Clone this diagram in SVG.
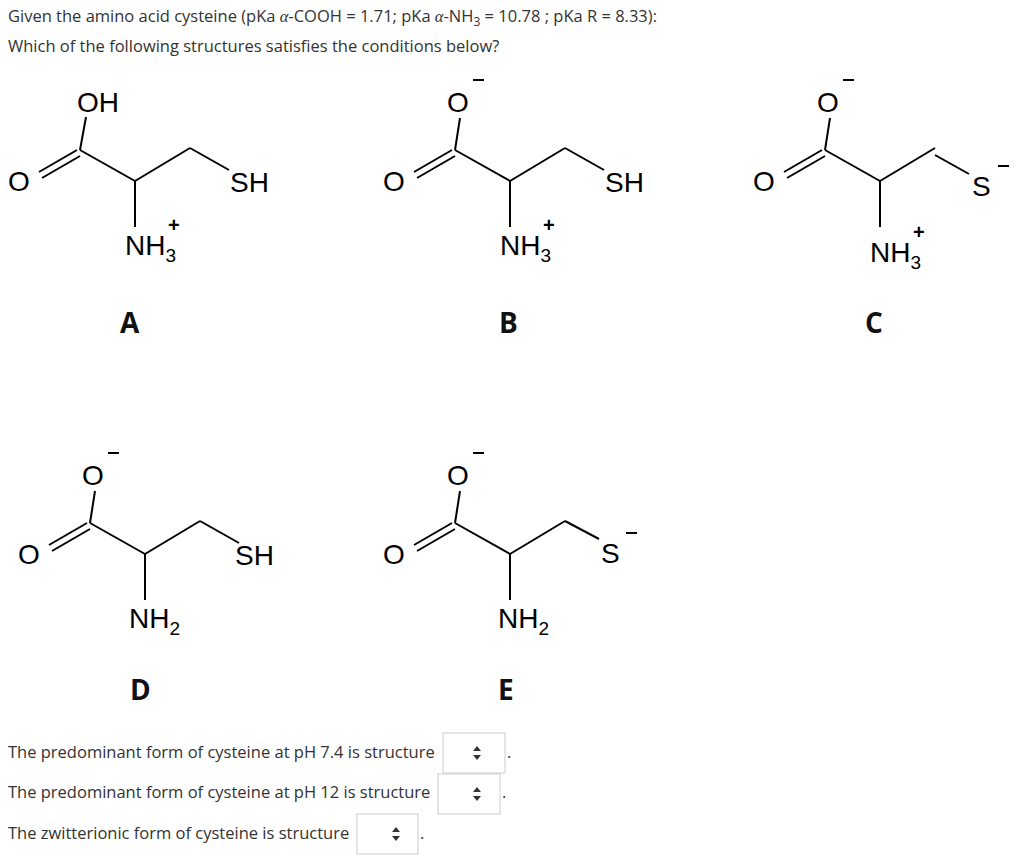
<svg xmlns="http://www.w3.org/2000/svg" width="1024" height="863" viewBox="0 0 1024 863">
<style>
.t{font-family:"Open Sans",sans-serif;font-size:16.5px;fill:#333}
.a{font-family:"Liberation Sans",Arial,sans-serif;font-size:28px;fill:#000}
.s{font-size:19px}
.p{font-family:"Liberation Sans",Arial,sans-serif;font-size:20px;font-weight:bold;fill:#000}
.l{font-family:"Open Sans",sans-serif;font-size:28px;font-weight:bold;fill:#111}
.b{stroke:#000;stroke-width:2;fill:none}
.box{fill:#fff;stroke:#ccc;stroke-width:1}
</style>
<defs>
<g id="core">
<line class="b" x1="42" y1="178" x2="80" y2="156"/>
<line class="b" x1="39" y1="172" x2="77" y2="150"/>
<line class="b" x1="80" y1="150" x2="135" y2="181"/>
<line class="b" x1="135" y1="181" x2="190" y2="148"/>
<line class="b" x1="135" y1="181" x2="135" y2="227"/>
<text class="a" x="8" y="191">O</text>
</g>
<g id="arr"><path d="M-4,-2 L0,-7 L4,-2Z M-4,2 L0,7 L4,2Z" fill="#333"/></g>
</defs>
<text class="t" x="8" y="22">Given the amino acid cysteine (pKa <tspan font-family="Liberation Serif" font-style="italic">α</tspan>-COOH = 1.71; pKa <tspan font-family="Liberation Serif" font-style="italic">α</tspan>-NH<tspan font-size="12" dy="4">3</tspan><tspan dy="-4"> = 10.78  ; pKa R = 8.33):</tspan></text>
<text class="t" x="8" y="52">Which of the following structures satisfies the conditions below?</text>
<g id="A">
<use href="#core"/>
<line class="b" x1="80" y1="150" x2="86" y2="117"/>
<text class="a" x="77" y="112">OH</text>
<line class="b" x1="190" y1="148" x2="229" y2="170"/>
<text class="a" x="230" y="192">SH</text>
<text class="a" x="125" y="255">NH<tspan class="s" dy="7">3</tspan></text>
<text class="p" x="168" y="232">+</text>
<text class="l" x="120" y="333">A</text>
</g>
<g id="B" transform="translate(375,0)">
<use href="#core"/>
<line class="b" x1="80" y1="150" x2="85" y2="118"/>
<text class="a" x="72" y="112">O</text>
<line class="b" x1="98" y1="80" x2="109" y2="80"/>
<line class="b" x1="190" y1="148" x2="229" y2="170"/>
<text class="a" x="230" y="192">SH</text>
<text class="a" x="125" y="255">NH<tspan class="s" dy="7">3</tspan></text>
<text class="p" x="168" y="232">+</text>
<text class="l" x="124" y="333">B</text>
</g>
<g id="C" transform="translate(745,0)">
<use href="#core"/>
<line class="b" x1="80" y1="150" x2="85" y2="118"/>
<text class="a" x="72" y="112">O</text>
<line class="b" x1="98" y1="80" x2="109" y2="80"/>
<line class="b" x1="190" y1="155" x2="224" y2="174"/>
<text class="a" x="227" y="196">S</text>
<line class="b" x1="253" y1="166" x2="264" y2="166"/>
<text class="a" x="125" y="262">NH<tspan class="s" dy="7">3</tspan></text>
<text class="p" x="168" y="239">+</text>
<text class="l" x="120" y="333">C</text>
</g>
<g id="D" transform="translate(10,373)">
<use href="#core"/>
<line class="b" x1="80" y1="150" x2="85" y2="118"/>
<text class="a" x="72" y="112">O</text>
<line class="b" x1="98" y1="80" x2="109" y2="80"/>
<line class="b" x1="190" y1="148" x2="229" y2="170"/>
<text class="a" x="225" y="192">SH</text>
<text class="a" x="119" y="255">NH<tspan class="s" dy="7">2</tspan></text>
<text class="l" x="120" y="327">D</text>
</g>
<g id="E" transform="translate(375,373)">
<use href="#core"/>
<line class="b" x1="80" y1="150" x2="85" y2="118"/>
<text class="a" x="72" y="112">O</text>
<line class="b" x1="98" y1="80" x2="109" y2="80"/>
<line class="b" x1="190" y1="148" x2="224" y2="166"/>
<text class="a" x="226" y="190">S</text>
<line class="b" x1="251" y1="160" x2="262" y2="160"/>
<text class="a" x="123" y="255">NH<tspan class="s" dy="7">2</tspan></text>
<text class="l" x="123" y="327">E</text>
</g>
<g id="q1">
<text class="t" x="8" y="758">The predominant form of cysteine at pH 7.4 is structure</text>
<rect class="box" x="443" y="733" width="62" height="40"/>
<use href="#arr" x="477" y="753"/>
<text class="t" x="507" y="758">.</text>
</g>
<g id="q2">
<text class="t" x="8" y="798">The predominant form of cysteine at pH 12 is structure</text>
<rect class="box" x="438" y="774" width="62" height="40"/>
<use href="#arr" x="477" y="794"/>
<text class="t" x="502" y="798">.</text>
</g>
<g id="q3">
<text class="t" x="8" y="839">The zwitterionic form of cysteine is structure</text>
<rect class="box" x="357" y="814" width="61" height="40"/>
<use href="#arr" x="396" y="834"/>
<text class="t" x="420" y="839">.</text>
</g>
</svg>
